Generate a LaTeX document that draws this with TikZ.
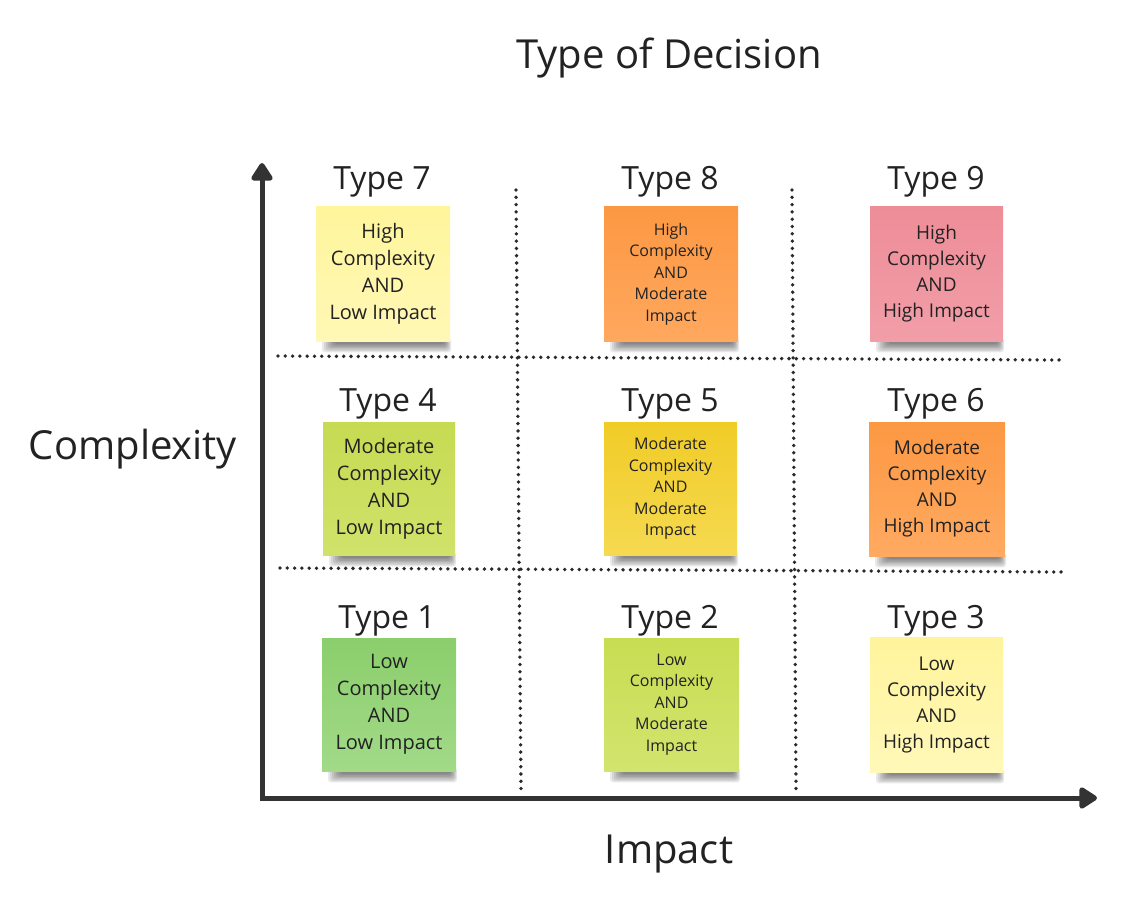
\documentclass[tikz,border=0pt]{standalone}
\usepackage{fontspec}
\setmainfont{Open Sans}
\usetikzlibrary{arrows.meta}
\definecolor{ink}{HTML}{222222}
\definecolor{axisgray}{HTML}{333333}
\definecolor{dotgray}{HTML}{2A2A2A}
\definecolor{c7t}{HTML}{FFF59C}\definecolor{c7b}{HTML}{FFF8B6}
\definecolor{c8t}{HTML}{FC9843}\definecolor{c8b}{HTML}{FFA85E}
\definecolor{c9t}{HTML}{EE8D98}\definecolor{c9b}{HTML}{F19EA8}
\definecolor{c4t}{HTML}{C6DB52}\definecolor{c4b}{HTML}{D1E26B}
\definecolor{c5t}{HTML}{F1CC27}\definecolor{c5b}{HTML}{F5D950}
\definecolor{c6t}{HTML}{FC9843}\definecolor{c6b}{HTML}{FFAA61}
\definecolor{c1t}{HTML}{8BCE6C}\definecolor{c1b}{HTML}{A2DA88}
\definecolor{c2t}{HTML}{C8DD52}\definecolor{c2b}{HTML}{D3E46E}
\definecolor{c3t}{HTML}{FFF49C}\definecolor{c3b}{HTML}{FFF8B8}
\tikzset{
  axisline/.style={line width=5pt, draw=axisgray, -{Triangle[width=24pt,length=20pt,round]}},
  dotline/.style={draw=dotgray, line width=3.8pt, line cap=round, dash pattern=on 0pt off 7.3pt},
  typelabel/.style={font=\fontsize{32}{38}\selectfont, text=ink, anchor=base},
  bigtext/.style={font=\fontsize{40}{48}\selectfont, text=ink, anchor=base},
  notebig/.style={font=\fontsize{20}{27}\selectfont},
  notemid/.style={font=\fontsize{19}{26}\selectfont},
  notesmall/.style={font=\fontsize{16}{21.5}\selectfont},
  sticky/.style={inner sep=0pt, align=center, text=ink},
}
% #1 name, #2 cx, #3 cy, #4 w, #5 h, #6 top colour, #7 bottom colour, #8 font style, #9 text
\newcommand\stickynote[9]{%
  \pgfmathsetmacro\snxa{#2-#4/2}%
  \pgfmathsetmacro\snxb{#2+#4/2}%
  \pgfmathsetmacro\snyb{#3+#5/2}%
  \foreach \k in {0,...,6}{%
    \fill[black, opacity=0.085, rounded corners=3pt]
      ({\snxa+18-2*\k},{\snyb-3}) rectangle ({\snxb-5+\k},{\snyb+3+1.4*\k});
  }%
  \node[sticky, #8, minimum width=#4pt, minimum height=#5pt,
        top color=#6, bottom color=#7] (#1) at (#2,#3) {#9};
}
\begin{document}
\begin{tikzpicture}[x=1pt,y=-1pt]
\useasboundingbox (0,0) rectangle (1130,904);

% title and axis names
\node[bigtext] (title) at (669,69) {Type of Decision};
\node[bigtext] (ylab) at (133,459) {Complexity};
\node[bigtext] (xlab) at (669,863) {Impact};

% dotted grid
\coordinate (h1a) at (278,356); \coordinate (h1b) at (1060,360);
\coordinate (h2a) at (280,568); \coordinate (h2b) at (1063,572);
\coordinate (v1a) at (516,190); \coordinate (v1b) at (521,790);
\coordinate (v2a) at (792,190); \coordinate (v2b) at (796,790);
\draw[dotline] (h1a) -- (h1b);
\draw[dotline] (h2a) -- (h2b);
\draw[dotline] (v1a) -- (v1b);
\draw[dotline] (v2a) -- (v2b);

% axes
\coordinate (yaxb) at (262,796);
\coordinate (ytip) at (262,163);
\coordinate (xaxa) at (260,798);
\coordinate (xtip) at (1097,798);
\draw[axisline] (yaxb) -- (ytip);
\draw[axisline] (xaxa) -- (xtip);

% type labels
\node[typelabel] (l7) at (382,190) {Type 7};
\node[typelabel] (l8) at (670,190) {Type 8};
\node[typelabel] (l9) at (936,190) {Type 9};
\node[typelabel] (l4) at (388,411) {Type 4};
\node[typelabel] (l5) at (670,411) {Type 5};
\node[typelabel] (l6) at (936,411) {Type 6};
\node[typelabel] (l1) at (387,628) {Type 1};
\node[typelabel] (l2) at (670,628) {Type 2};
\node[typelabel] (l3) at (936,628) {Type 3};

% sticky notes
\stickynote{n7}{383}{274}{134}{134}{c7t}{c7b}{notebig}{High\\Complexity\\AND\\Low Impact}
\stickynote{n8}{671}{274}{134}{134}{c8t}{c8b}{notesmall}{High\\Complexity\\AND\\Moderate\\Impact}
\stickynote{n9}{936.5}{274}{133}{134}{c9t}{c9b}{notemid}{High\\Complexity\\AND\\High Impact}
\stickynote{n4}{389}{488.5}{132}{133}{c4t}{c4b}{notebig}{Moderate\\Complexity\\AND\\Low Impact}
\stickynote{n5}{670.5}{488.5}{133}{133}{c5t}{c5b}{notesmall}{Moderate\\Complexity\\AND\\Moderate\\Impact}
\stickynote{n6}{937}{489}{136}{134}{c6t}{c6b}{notemid}{Moderate\\Complexity\\AND\\High Impact}
\stickynote{n1}{389}{704.5}{134}{133}{c1t}{c1b}{notebig}{Low\\Complexity\\AND\\Low Impact}
\stickynote{n2}{671.5}{704.5}{135}{133}{c2t}{c2b}{notesmall}{Low\\Complexity\\AND\\Moderate\\Impact}
\stickynote{n3}{936.5}{704.5}{133}{135}{c3t}{c3b}{notemid}{Low\\Complexity\\AND\\High Impact}
\end{tikzpicture}
\end{document}
